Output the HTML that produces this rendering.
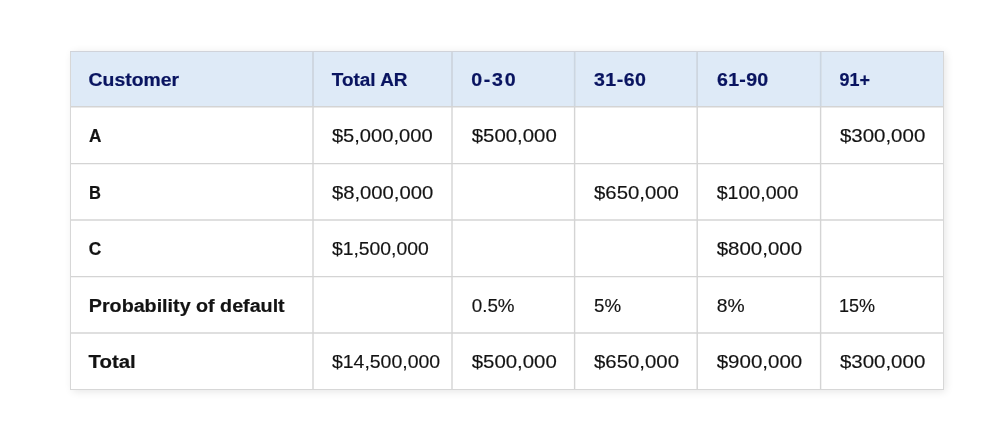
<!DOCTYPE html>
<html lang="en">
<head>
<meta charset="utf-8">
<title>AR aging table</title>
<style>
html,body{margin:0;padding:0;background:#fff;}
body{width:1000px;height:441px;overflow:hidden;}
svg{display:block;}
text{font-family:"Liberation Sans",sans-serif;}
.h{font-weight:bold;font-size:17.5px;fill:#091460;stroke:#091460;stroke-width:0.2px;}
.b{font-weight:bold;font-size:17.5px;fill:#131313;stroke:#131313;stroke-width:0.2px;}
.r{font-weight:normal;font-size:17.7px;fill:#131313;stroke:#131313;stroke-width:0.15px;}
</style>
</head>
<body>
<svg width="1000" height="441" viewBox="0 0 1000 441">
<defs><filter id="sh" x="-5%" y="-10%" width="110%" height="125%"><feGaussianBlur stdDeviation="4"/></filter></defs>
<rect width="1000" height="441" fill="#ffffff"/>
<rect x="72.5" y="52.5" width="873.0" height="339.0" fill="#000" opacity="0.10" filter="url(#sh)"/>
<rect x="70.5" y="51.5" width="873.0" height="338.0" fill="#ffffff"/>
<rect x="70.5" y="51.5" width="873.0" height="55.2" fill="#deeaf7"/>
<g stroke="#d4d4d4" stroke-width="1.4" fill="none">
<line x1="70.5" y1="106.7" x2="943.5" y2="106.7"/>
<line x1="70.5" y1="163.6" x2="943.5" y2="163.6"/>
<line x1="70.5" y1="220.0" x2="943.5" y2="220.0"/>
<line x1="70.5" y1="276.6" x2="943.5" y2="276.6"/>
<line x1="70.5" y1="333.0" x2="943.5" y2="333.0"/>
<line x1="313.0" y1="51.5" x2="313.0" y2="389.5"/>
<line x1="452.0" y1="51.5" x2="452.0" y2="389.5"/>
<line x1="574.6" y1="51.5" x2="574.6" y2="389.5"/>
<line x1="697.2" y1="51.5" x2="697.2" y2="389.5"/>
<line x1="820.6" y1="51.5" x2="820.6" y2="389.5"/>
</g>
<g stroke="#cbd6e2" stroke-width="1.3">
<line x1="313.0" y1="52.15" x2="313.0" y2="106.05"/>
<line x1="452.0" y1="52.15" x2="452.0" y2="106.05"/>
<line x1="574.6" y1="52.15" x2="574.6" y2="106.05"/>
<line x1="697.2" y1="52.15" x2="697.2" y2="106.05"/>
<line x1="820.6" y1="52.15" x2="820.6" y2="106.05"/>
</g>
<rect x="70.5" y="51.5" width="873" height="338" fill="none" stroke="#d7d7d7" stroke-width="1"/>
<line x1="70" y1="51.5" x2="944" y2="51.5" stroke="#d0d3da" stroke-width="1"/>
<g opacity="0.999">
<text class="h" x="88.60" y="85.60" textLength="90.40" lengthAdjust="spacingAndGlyphs">Customer</text>
<text class="h" x="331.80" y="85.60" textLength="75.70" lengthAdjust="spacingAndGlyphs">Total AR</text>
<text class="h" transform="translate(471.20 85.60) scale(1.12 1)" textLength="39.64" lengthAdjust="spacing">0-30</text>
<text class="h" transform="translate(594.00 85.60) scale(1.12 1)" textLength="46.34" lengthAdjust="spacing">31-60</text>
<text class="h" transform="translate(717.00 85.60) scale(1.12 1)" textLength="45.71" lengthAdjust="spacing">61-90</text>
<text class="h" x="839.60" y="85.60" textLength="30.40" lengthAdjust="spacingAndGlyphs">91+</text>
<text class="b" x="89.00" y="141.90" textLength="12.40" lengthAdjust="spacingAndGlyphs">A</text>
<text class="r" x="331.90" y="141.90" textLength="100.70" lengthAdjust="spacingAndGlyphs">$5,000,000</text>
<text class="r" x="471.70" y="141.90" textLength="85.10" lengthAdjust="spacingAndGlyphs">$500,000</text>
<text class="r" x="839.90" y="141.90" textLength="85.40" lengthAdjust="spacingAndGlyphs">$300,000</text>
<text class="b" x="88.90" y="198.50" textLength="11.90" lengthAdjust="spacingAndGlyphs">B</text>
<text class="r" x="331.90" y="198.50" textLength="101.40" lengthAdjust="spacingAndGlyphs">$8,000,000</text>
<text class="r" x="594.00" y="198.50" textLength="84.90" lengthAdjust="spacingAndGlyphs">$650,000</text>
<text class="r" x="716.70" y="198.50" textLength="81.70" lengthAdjust="spacingAndGlyphs">$100,000</text>
<text class="b" x="88.70" y="255.20" textLength="12.50" lengthAdjust="spacingAndGlyphs">C</text>
<text class="r" x="331.90" y="255.00" textLength="96.90" lengthAdjust="spacingAndGlyphs">$1,500,000</text>
<text class="r" x="716.70" y="255.00" textLength="85.40" lengthAdjust="spacingAndGlyphs">$800,000</text>
<text class="b" x="88.80" y="311.50" textLength="195.90" lengthAdjust="spacingAndGlyphs">Probability of default</text>
<text class="r" x="471.70" y="311.50" textLength="42.90" lengthAdjust="spacingAndGlyphs">0.5%</text>
<text class="r" x="594.00" y="311.50" textLength="27.10" lengthAdjust="spacingAndGlyphs">5%</text>
<text class="r" x="716.70" y="311.50" textLength="27.90" lengthAdjust="spacingAndGlyphs">8%</text>
<text class="r" x="838.90" y="311.50" textLength="36.10" lengthAdjust="spacingAndGlyphs">15%</text>
<text class="b" x="88.50" y="367.90" textLength="47.20" lengthAdjust="spacingAndGlyphs">Total</text>
<text class="r" x="331.90" y="367.90" textLength="108.30" lengthAdjust="spacingAndGlyphs">$14,500,000</text>
<text class="r" x="471.70" y="367.90" textLength="85.10" lengthAdjust="spacingAndGlyphs">$500,000</text>
<text class="r" x="594.00" y="367.90" textLength="85.00" lengthAdjust="spacingAndGlyphs">$650,000</text>
<text class="r" x="716.70" y="367.90" textLength="85.50" lengthAdjust="spacingAndGlyphs">$900,000</text>
<text class="r" x="839.90" y="367.90" textLength="85.40" lengthAdjust="spacingAndGlyphs">$300,000</text>
</g>
</svg>
</body>
</html>
